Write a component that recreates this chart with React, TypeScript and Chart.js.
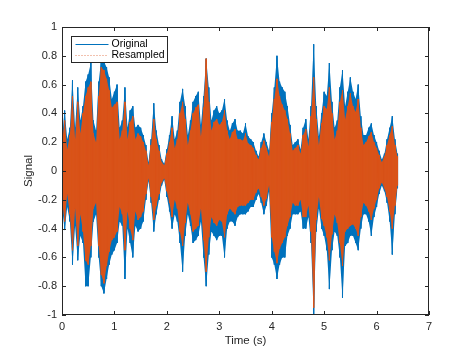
import React, { useEffect, useRef } from "react";
import { Chart, registerables } from "chart.js";

Chart.register(...registerables);

// Envelope readings every 0.05 s (seconds)
const times: number[] = [
  0.00, 0.05, 0.10, 0.15, 0.20, 0.25, 0.30, 0.35, 0.40, 0.45,
  0.50, 0.55, 0.60, 0.65, 0.70, 0.75, 0.80, 0.85, 0.90, 0.95,
  1.00, 1.05, 1.10, 1.15, 1.20, 1.25, 1.30, 1.35, 1.40, 1.45,
  1.50, 1.55, 1.60, 1.65, 1.70, 1.75, 1.80, 1.85, 1.90, 1.95,
  2.00, 2.05, 2.10, 2.15, 2.20, 2.25, 2.30, 2.35, 2.40, 2.45,
  2.50, 2.55, 2.60, 2.65, 2.70, 2.75, 2.80, 2.85, 2.90, 2.95,
  3.00, 3.05, 3.10, 3.15, 3.20, 3.25, 3.30, 3.35, 3.40, 3.45,
  3.50, 3.55, 3.60, 3.65, 3.70, 3.75, 3.80, 3.85, 3.90, 3.95,
  4.00, 4.05, 4.10, 4.15, 4.20, 4.25, 4.30, 4.35, 4.40, 4.45,
  4.50, 4.55, 4.60, 4.65, 4.70, 4.75, 4.80, 4.85, 4.90, 4.95,
  5.00, 5.05, 5.10, 5.15, 5.20, 5.25, 5.30, 5.35, 5.40, 5.45,
  5.50, 5.55, 5.60, 5.65, 5.70, 5.75, 5.80, 5.85, 5.90, 5.95,
  6.00, 6.05, 6.10, 6.15, 6.20, 6.25, 6.30, 6.35, 6.40,
];

const originalHigh: number[] = [
  0.22, 0.42, 0.22, 0.30, 0.63, 0.30, 0.58, 0.35, 0.45, 0.62,
  0.67, 0.75, 0.35, 0.28, 0.62, 0.78, 0.76, 0.72, 0.65, 0.50,
  0.55, 0.60, 0.30, 0.35, 0.58, 0.30, 0.42, 0.45, 0.30, 0.32,
  0.30, 0.25, 0.18, 0.06, 0.22, 0.47, 0.28, 0.18, 0.08, 0.05,
  0.15, 0.25, 0.38, 0.22, 0.28, 0.48, 0.57, 0.45, 0.25, 0.35,
  0.48, 0.52, 0.55, 0.32, 0.52, 0.78, 0.58, 0.35, 0.42, 0.45,
  0.40, 0.42, 0.50, 0.35, 0.28, 0.33, 0.36, 0.28, 0.28, 0.26,
  0.33, 0.24, 0.22, 0.20, 0.14, 0.10, 0.20, 0.26, 0.20, 0.14,
  0.40, 0.58, 0.80, 0.62, 0.58, 0.55, 0.45, 0.32, 0.18, 0.20,
  0.22, 0.15, 0.30, 0.36, 0.22, 0.45, 0.88, 0.45, 0.24, 0.40,
  0.55, 0.52, 0.75, 0.48, 0.30, 0.35, 0.58, 0.70, 0.45, 0.55,
  0.65, 0.55, 0.50, 0.60, 0.38, 0.25, 0.25, 0.30, 0.33, 0.25,
  0.20, 0.14, 0.08, 0.12, 0.22, 0.30, 0.38, 0.22, 0.12,
];

const originalLow: number[] = [
  -0.25, -0.41, -0.25, -0.35, -0.65, -0.38, -0.62, -0.45, -0.50, -0.80,
  -0.80, -0.60, -0.35, -0.30, -0.60, -0.80, -0.85, -0.75, -0.65, -0.58,
  -0.55, -0.50, -0.35, -0.38, -0.75, -0.40, -0.50, -0.60, -0.38, -0.42,
  -0.40, -0.35, -0.20, -0.07, -0.22, -0.42, -0.30, -0.20, -0.10, -0.06,
  -0.18, -0.28, -0.40, -0.30, -0.35, -0.50, -0.70, -0.45, -0.30, -0.38,
  -0.50, -0.48, -0.45, -0.35, -0.60, -0.80, -0.58, -0.42, -0.45, -0.48,
  -0.45, -0.45, -0.60, -0.40, -0.35, -0.35, -0.38, -0.32, -0.30, -0.30,
  -0.30, -0.28, -0.25, -0.25, -0.20, -0.16, -0.22, -0.30, -0.24, -0.14,
  -0.60, -0.65, -0.75, -0.65, -0.60, -0.60, -0.45, -0.40, -0.30, -0.30,
  -0.30, -0.28, -0.40, -0.40, -0.32, -0.50, -1.00, -0.42, -0.26, -0.40,
  -0.45, -0.55, -0.82, -0.55, -0.42, -0.45, -0.60, -0.88, -0.52, -0.50,
  -0.45, -0.45, -0.50, -0.55, -0.40, -0.30, -0.30, -0.35, -0.45, -0.32,
  -0.25, -0.16, -0.10, -0.14, -0.22, -0.35, -0.58, -0.30, -0.12,
];

const resampledHigh: number[] = [
  0.18, 0.35, 0.15, 0.25, 0.52, 0.22, 0.48, 0.26, 0.40, 0.52,
  0.58, 0.62, 0.26, 0.20, 0.52, 0.72, 0.70, 0.64, 0.56, 0.44,
  0.46, 0.48, 0.22, 0.28, 0.48, 0.22, 0.34, 0.38, 0.22, 0.26,
  0.24, 0.20, 0.14, 0.04, 0.18, 0.36, 0.22, 0.14, 0.06, 0.04,
  0.12, 0.20, 0.30, 0.16, 0.22, 0.40, 0.48, 0.36, 0.18, 0.28,
  0.40, 0.44, 0.46, 0.24, 0.44, 0.78, 0.48, 0.28, 0.34, 0.36,
  0.32, 0.34, 0.42, 0.28, 0.22, 0.27, 0.29, 0.22, 0.22, 0.21,
  0.26, 0.19, 0.18, 0.16, 0.11, 0.08, 0.16, 0.21, 0.16, 0.10,
  0.34, 0.50, 0.64, 0.52, 0.46, 0.42, 0.36, 0.26, 0.14, 0.16,
  0.18, 0.12, 0.25, 0.29, 0.17, 0.38, 0.65, 0.36, 0.18, 0.33,
  0.45, 0.43, 0.58, 0.40, 0.22, 0.28, 0.48, 0.56, 0.36, 0.45,
  0.54, 0.45, 0.41, 0.50, 0.30, 0.18, 0.20, 0.24, 0.27, 0.20,
  0.16, 0.11, 0.06, 0.10, 0.18, 0.25, 0.31, 0.18, 0.10,
];

const resampledLow: number[] = [
  -0.20, -0.35, -0.16, -0.30, -0.55, -0.26, -0.52, -0.30, -0.42, -0.62,
  -0.65, -0.52, -0.26, -0.22, -0.52, -0.72, -0.78, -0.66, -0.56, -0.48,
  -0.46, -0.42, -0.25, -0.30, -0.55, -0.28, -0.40, -0.48, -0.28, -0.34,
  -0.32, -0.28, -0.16, -0.05, -0.18, -0.34, -0.24, -0.16, -0.08, -0.05,
  -0.14, -0.22, -0.32, -0.20, -0.26, -0.42, -0.52, -0.36, -0.22, -0.30,
  -0.42, -0.40, -0.38, -0.26, -0.48, -0.70, -0.46, -0.32, -0.36, -0.38,
  -0.34, -0.35, -0.46, -0.30, -0.26, -0.28, -0.30, -0.25, -0.24, -0.24,
  -0.24, -0.22, -0.20, -0.20, -0.15, -0.12, -0.18, -0.24, -0.19, -0.10,
  -0.46, -0.56, -0.64, -0.54, -0.50, -0.46, -0.38, -0.32, -0.22, -0.24,
  -0.24, -0.20, -0.32, -0.32, -0.24, -0.42, -0.95, -0.34, -0.18, -0.33,
  -0.38, -0.46, -0.62, -0.44, -0.30, -0.36, -0.50, -0.66, -0.42, -0.40,
  -0.38, -0.37, -0.40, -0.45, -0.32, -0.22, -0.24, -0.28, -0.34, -0.26,
  -0.20, -0.12, -0.08, -0.12, -0.18, -0.28, -0.40, -0.24, -0.10,
];

const xTicks: number[] = [0, 1, 2, 3, 4, 5, 6, 7];
const yTicks: number[] = [-1, -0.8, -0.6, -0.4, -0.2, 0, 0.2, 0.4, 0.6, 0.8, 1];
const seriesNames: string[] = ["Original", "Resampled"];

const BLUE = "#0072BD";
const ORANGE = "#D95319";
const AXIS = "#262626";
const FONT = "'Liberation Sans', Arial, Helvetica, sans-serif";

function zigzag(t: number[], hi: number[], lo: number[]) {
  const pts: { x: number; y: number }[] = [];
  for (let i = 0; i < t.length; i++) {
    pts.push({ x: t[i], y: hi[i] });
    pts.push({ x: t[i], y: lo[i] });
  }
  return pts;
}

function pairs(t: number[], v: number[]) {
  return t.map((x, i) => ({ x, y: v[i] }));
}

const framePlugin = {
  id: "frameTicks",
  afterDatasetsDraw(chart: any) {
    const { ctx, chartArea, scales } = chart;
    const { left, right, top, bottom } = chartArea;
    ctx.save();
    ctx.strokeStyle = AXIS;
    ctx.lineWidth = 1;
    ctx.strokeRect(left + 0.5, top + 0.5, right - left - 1, bottom - top - 1);
    const tl = 4;
    ctx.beginPath();
    for (const v of xTicks) {
      const px = Math.round(scales.x.getPixelForValue(v)) + 0.5;
      ctx.moveTo(px, bottom);
      ctx.lineTo(px, bottom - tl);
      ctx.moveTo(px, top);
      ctx.lineTo(px, top + tl);
    }
    for (const v of yTicks) {
      const py = Math.round(scales.y.getPixelForValue(v)) + 0.5;
      ctx.moveTo(left, py);
      ctx.lineTo(left + tl, py);
      ctx.moveTo(right, py);
      ctx.lineTo(right - tl, py);
    }
    ctx.stroke();
    ctx.restore();
  },
};

const legendPlugin = {
  id: "insideLegend",
  afterDraw(chart: any) {
    const { ctx, chartArea } = chart;
    const bx = chartArea.left + 9.5;
    const by = chartArea.top + 9.5;
    const bw = 96;
    const bh = 26;
    ctx.save();
    ctx.fillStyle = "#ffffff";
    ctx.fillRect(bx, by, bw, bh);
    ctx.strokeStyle = AXIS;
    ctx.lineWidth = 1;
    ctx.strokeRect(bx, by, bw, bh);
    const rows = [
      { name: seriesNames[0], color: BLUE, dash: [] as number[] },
      { name: seriesNames[1], color: "#E5825C", dash: [1, 2] },
    ];
    rows.forEach((r, i) => {
      const cy = by + 7 + i * 11.5;
      ctx.beginPath();
      ctx.setLineDash(r.dash);
      ctx.strokeStyle = r.color;
      ctx.lineWidth = 1;
      ctx.moveTo(bx + 4, Math.round(cy) + 0.5);
      ctx.lineTo(bx + 37, Math.round(cy) + 0.5);
      ctx.stroke();
      ctx.setLineDash([]);
      ctx.fillStyle = "#000000";
      ctx.font = `10.5px ${FONT}`;
      ctx.textBaseline = "middle";
      ctx.textAlign = "left";
      ctx.fillText(r.name, bx + 40, cy + 0.5);
    });
    ctx.restore();
  },
};

function bandSet(label: string, data: any, color: string, order: number, fill: any) {
  return {
    label,
    data,
    borderColor: color,
    backgroundColor: color,
    borderWidth: 0,
    pointRadius: 0,
    tension: 0,
    fill,
    order,
  };
}

export default function App() {
  const canvasRef = useRef<HTMLCanvasElement | null>(null);

  useEffect(() => {
    if (!canvasRef.current) return;
    const chart = new Chart(canvasRef.current, {
      type: "line",
      data: {
        datasets: [
          bandSet(seriesNames[0] + " upper", pairs(times, originalHigh), BLUE, 5, "+1"),
          bandSet(seriesNames[0] + " lower", pairs(times, originalLow), BLUE, 4, false),
          {
            label: seriesNames[0],
            data: zigzag(times, originalHigh, originalLow),
            borderColor: BLUE,
            borderWidth: 1,
            pointRadius: 0,
            tension: 0,
            fill: false,
            order: 3,
          },
          bandSet(seriesNames[1] + " upper", pairs(times, resampledHigh), ORANGE, 2, "+1"),
          bandSet(seriesNames[1] + " lower", pairs(times, resampledLow), ORANGE, 1, false),
          {
            label: seriesNames[1],
            data: zigzag(times, resampledHigh, resampledLow),
            borderColor: ORANGE,
            borderWidth: 1,
            pointRadius: 0,
            tension: 0,
            fill: false,
            order: 0,
          },
        ],
      },
      options: {
        animation: false,
        responsive: true,
        maintainAspectRatio: false,
        layout: { padding: { left: 0, top: 27, right: 45, bottom: 0 } },
        plugins: {
          legend: { display: false },
          tooltip: { enabled: false },
        },
        scales: {
          x: {
            type: "linear",
            min: 0,
            max: 7,
            afterBuildTicks: (scale: any) => {
              scale.ticks = xTicks.map((v) => ({ value: v }));
            },
            afterFit: (scale: any) => {
              scale.height = 40;
            },
            grid: { display: false, drawTicks: false },
            border: { display: false },
            ticks: {
              padding: 5,
              color: AXIS,
              font: { family: FONT, size: 11 },
              maxRotation: 0,
              callback: (v: any) => String(Number(Number(v).toFixed(1))),
            },
            title: {
              display: true,
              text: "Time (s)",
              color: AXIS,
              font: { family: FONT, size: 11.5 },
              padding: { top: 0, bottom: 7 },
            },
          },
          y: {
            type: "linear",
            min: -1,
            max: 1,
            afterBuildTicks: (scale: any) => {
              scale.ticks = yTicks.map((v) => ({ value: v }));
            },
            afterFit: (scale: any) => {
              scale.width = 62;
            },
            grid: { display: false, drawTicks: false },
            border: { display: false },
            ticks: {
              padding: 5,
              color: AXIS,
              font: { family: FONT, size: 11 },
              callback: (v: any) => String(Number(Number(v).toFixed(1))),
            },
            title: {
              display: true,
              text: "Signal",
              color: AXIS,
              font: { family: FONT, size: 11.5 },
              padding: { top: 22, bottom: 0 },
            },
          },
        },
      },
      plugins: [framePlugin, legendPlugin],
    });
    return () => chart.destroy();
  }, []);

  return (
    <div
      style={{
        position: "absolute",
        left: 0,
        top: 0,
        width: 474,
        height: 355,
        background: "#ffffff",
      }}
    >
      <canvas ref={canvasRef} />
    </div>
  );
}
